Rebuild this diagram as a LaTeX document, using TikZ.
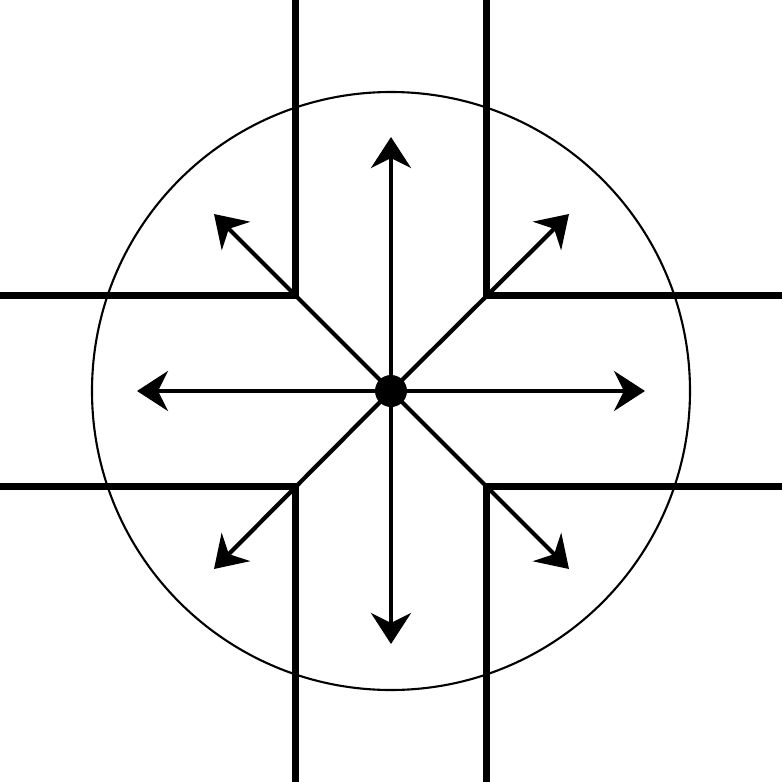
\documentclass[tikz,border=0pt]{standalone}
\usepackage{tikz}
\usetikzlibrary{arrows.meta,calc}

\begin{document}
\begin{tikzpicture}[
    road/.style={line width=2.2pt, line cap=rect},
    ring/.style={line width=0.6pt},
    dir/.style={-{Stealth[length=0.31cm, width=0.4cm, inset=0.1cm]}, line width=1.2pt},
    hub/.style={circle, fill=black, inner sep=0pt, minimum size=0.32cm}
]
    \useasboundingbox (-3.91,-3.91) rectangle (3.90,3.91);

    % Roads
    \draw[road] (-0.955,3.95) -- (-0.955,0.955) -- (-3.95,0.955);
    \draw[road] (0.955,3.95) -- (0.955,0.955) -- (3.95,0.955);
    \draw[road] (-0.955,-3.95) -- (-0.955,-0.955) -- (-3.95,-0.955);
    \draw[road] (0.955,-3.95) -- (0.955,-0.955) -- (3.95,-0.955);

    % Circle
    \draw[ring] (0,0) circle (2.99);

    % Nodes
    \node[hub] (hub) at (0,0) {};
    \coordinate (n) at (0,2.54);
    \coordinate (s) at (0,-2.53);
    \coordinate (w) at (-2.54,0);
    \coordinate (e) at (2.54,0);
    \coordinate (nw) at (-1.77,1.77);
    \coordinate (ne) at (1.78,1.77);
    \coordinate (sw) at (-1.77,-1.78);
    \coordinate (se) at (1.78,-1.78);

    % Edges
    \foreach \t in {n,s,w,e,nw,ne,sw,se}
        \draw[dir] (hub.center) -- (\t);

\end{tikzpicture}
\end{document}
